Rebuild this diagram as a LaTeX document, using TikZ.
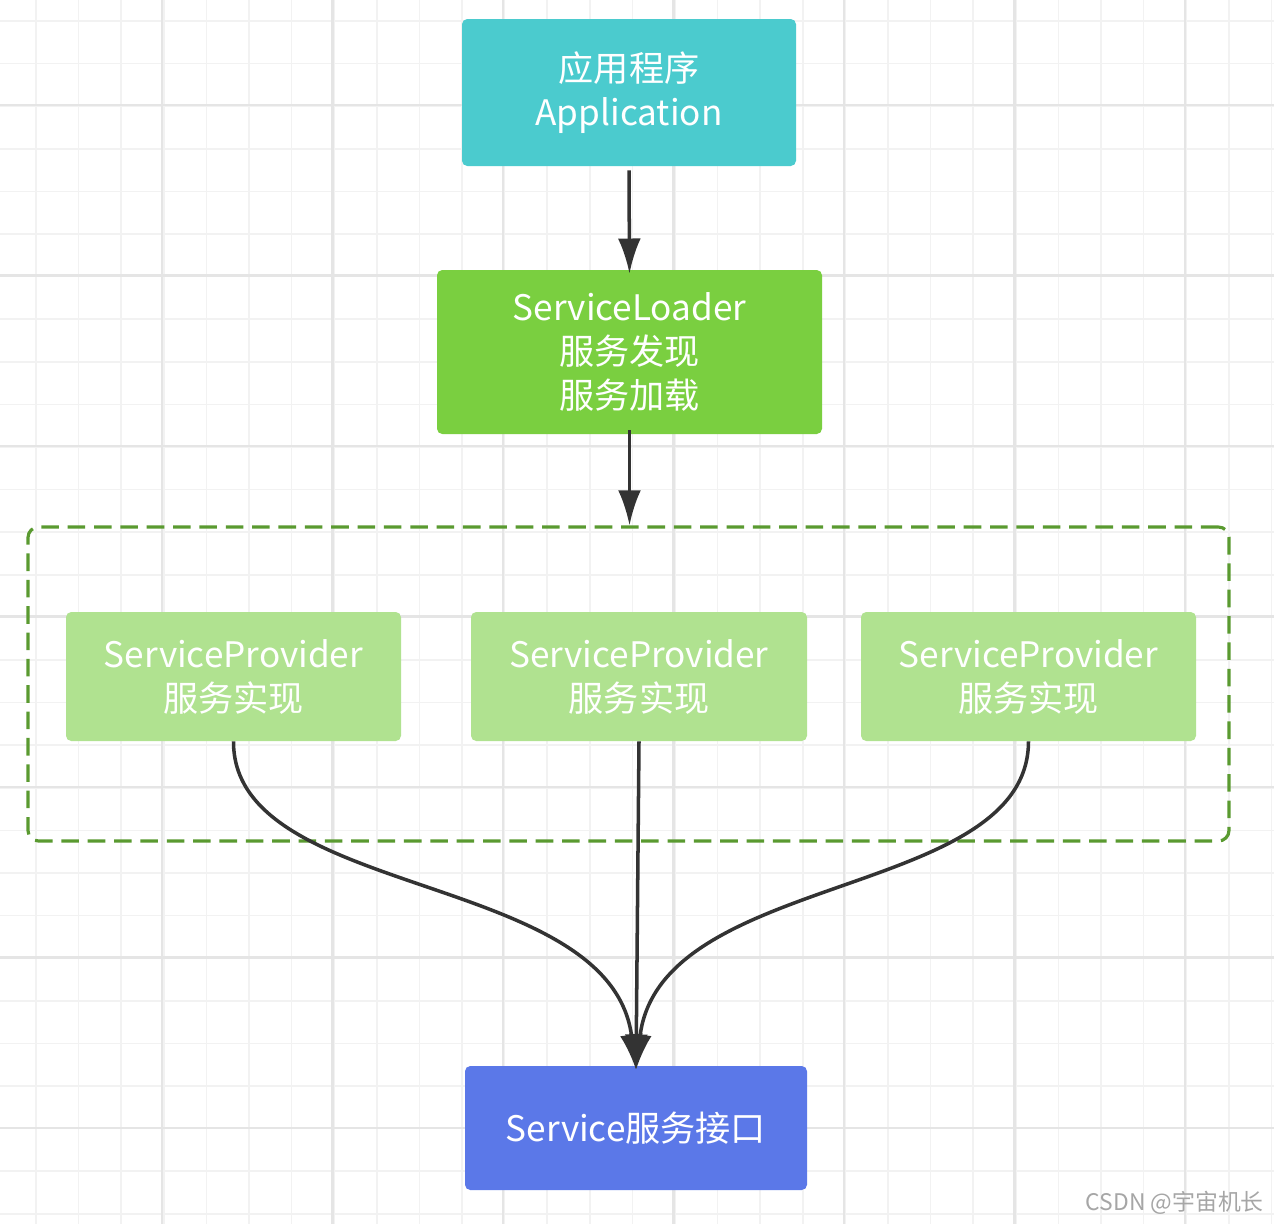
\documentclass[tikz,border=0pt]{standalone}
\usepackage{fontspec}
\setmainfont{Noto Sans CJK SC}
\usetikzlibrary{arrows.meta}
\definecolor{appc}{HTML}{4BCBCE}
\definecolor{loadc}{HTML}{7ACF40}
\definecolor{provc}{HTML}{B0E290}
\definecolor{servc}{HTML}{5B78E8}
\definecolor{dashc}{HTML}{5A9A30}
\definecolor{arrc}{HTML}{333333}
\begin{document}
\begin{tikzpicture}[x=0.02cm,y=-0.02cm,
  box/.style={rounded corners=3pt,text=white,align=center,font=\fontsize{20}{25}\selectfont,inner sep=0},
  arr/.style={draw=arrc,line width=2pt,-{Latex[length=20pt,width=13pt]}}]
\useasboundingbox (0,0) rectangle (1274,1224);
\fill[white] (0,0) rectangle (1274,1224);
% grid
\foreach \i in {0,...,30}{
  \pgfmathsetmacro\xx{36+42.6*(\i-0)}
  \draw[black!5,line width=1pt] (\xx,0) -- (\xx,1224);
  \draw[black!5,line width=1pt] (0,\xx-15) -- (1274,\xx-15);}
\foreach \i in {0,...,7}{
  \draw[black!10,line width=1.3pt] (162+170.5*\i,0) -- (162+170.5*\i,1224);
  \draw[black!10,line width=1.3pt] (0,105+170.5*\i) -- (1274,105+170.5*\i);}
% nodes
\node[box,fill=appc,minimum width=334*0.02cm,minimum height=147*0.02cm] (app) at (629,92.5) {应用程序\\Application};
\node[box,fill=loadc,minimum width=385*0.02cm,minimum height=164*0.02cm] (loader) at (629.5,352) {ServiceLoader\\服务发现\\服务加载};
\node[draw=dashc,dash pattern=on 10pt off 5pt,line width=1.8pt,rounded corners=6pt,minimum width=1201*0.02cm,minimum height=314*0.02cm] (grp) at (628.5,684) {};
\node[box,fill=provc,minimum width=335*0.02cm,minimum height=129*0.02cm] (p1) at (233.5,676.5) {ServiceProvider\\服务实现};
\node[box,fill=provc,minimum width=336*0.02cm,minimum height=129*0.02cm] (p2) at (639,676.5) {ServiceProvider\\服务实现};
\node[box,fill=provc,minimum width=335*0.02cm,minimum height=129*0.02cm] (p3) at (1028.5,676.5) {ServiceProvider\\服务实现};
\node[box,fill=servc,minimum width=342*0.02cm,minimum height=124*0.02cm] (serv) at (636,1128) {Service服务接口};
\node[text=black!35,font=\fontsize{13}{15}\selectfont,anchor=east] (wm) at (1270,1203) {CSDN @宇宙机长};
% connectors
\draw[arr] ([yshift=-4*0.02cm]app.south) -- ([yshift=-4*0.02cm]loader.north);
\draw[arr] ([yshift=4*0.02cm]loader.south) -- (grp.north -| loader.south);
\draw[arr] (p1.south) .. controls (233,900) and (610,870) .. ([yshift=-4*0.02cm]serv.north);
\draw[arr] (p2.south) -- ([yshift=-4*0.02cm]serv.north);
\draw[arr] (p3.south) .. controls (1028,900) and (660,870) .. ([yshift=-4*0.02cm]serv.north);
\end{tikzpicture}
\end{document}
